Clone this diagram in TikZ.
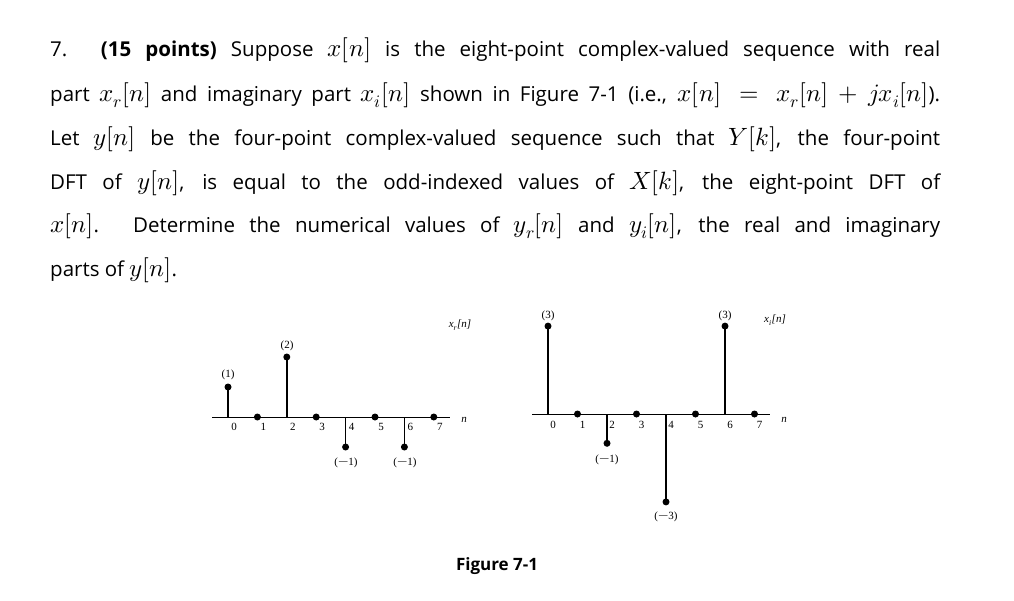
\documentclass[tikz,border=0pt]{standalone}
\usepackage{unicode-math}
\setmainfont{Open Sans}
\setmathfont{Latin Modern Math}[Scale=1.22]
\newfontfamily\tms{Liberation Serif}
\begin{document}
\begin{tikzpicture}[x=1pt,y=-1pt,
  para/.style={anchor=west,inner sep=0pt,font=\fontsize{20.5}{24}\selectfont},
  sm/.style={font=\tms\fontsize{11}{13}\selectfont,inner sep=0pt},
  stem/.style={line width=1.4pt},
  dot/.style={circle,fill=black,inner sep=0pt,minimum size=7pt},
  ax/.style={line width=1pt}]
\useasboundingbox (0,0) rectangle (1014,600);
\newcommand\jl[1]{\parbox{890pt}{\parfillskip=0pt #1}}
\node[para] (l1) at (50,50) {\jl{7. \textbf{(15 points)} Suppose $x[n]$ is the eight-point complex-valued sequence with real}};
\node[para] (l2) at (50,95) {\jl{part $x_r[n]$ and imaginary part $x_i[n]$ shown in Figure 7-1 (i.e., $x[n]=x_r[n]+jx_i[n]$).}};
\node[para] (l3) at (50,139) {\jl{Let $y[n]$ be the four-point complex-valued sequence such that $Y[k]$, the four-point}};
\node[para] (l4) at (50,183) {\jl{DFT of $y[n]$, is equal to the odd-indexed values of $X[k]$, the eight-point DFT of}};
\node[para] (l5) at (50,226) {\jl{$x[n]$. Determine the numerical values of $y_r[n]$ and $y_i[n]$, the real and imaginary}};
\node[para] (l6) at (50,270) {parts of $y[n]$.};
% left plot
\coordinate (La) at (212,417); \coordinate (Lb) at (450,417);
\draw[ax] (La) -- (Lb);
\foreach \n/\val in {0/1,1/0,2/2,3/0,4/-1,5/0,6/-1,7/0}{
  \coordinate (L\n) at ({228+29.4*\n},417);
  \coordinate (Lt\n) at ({228+29.4*\n},{417-30*\val});
  \draw[stem] (L\n) -- (Lt\n);
  \node[dot] (Ld\n) at (Lt\n) {};
  \node[sm] (Ln\n) at ({234+29.4*\n},427) {\n};
}
\node[sm] at (228,375) {(1)};
\node[sm] at (287,346) {(2)};
\node[sm] at (346,463) {($-$1)};
\node[sm] at (405,463) {($-$1)};
\node[sm] at (460,325) {\itshape x\textsubscript{r}[n]};
\node[sm] at (464,420) {\itshape n};
% right plot
\coordinate (Ra) at (532,414); \coordinate (Rb) at (770,414);
\draw[ax] (Ra) -- (Rb);
\foreach \n/\val in {0/3,1/0,2/-1,3/0,4/-3,5/0,6/3,7/0}{
  \coordinate (R\n) at ({548+29.5*\n},414);
  \coordinate (Rt\n) at ({548+29.5*\n},{414-29.3*\val});
  \draw[stem] (R\n) -- (Rt\n);
  \node[dot] (Rd\n) at (Rt\n) {};
  \node[sm] (Rn\n) at ({553+29.5*\n},425) {\n};
}
\node[sm] at (548,316) {(3)};
\node[sm] at (725,316) {(3)};
\node[sm] at (607,460) {($-$1)};
\node[sm] at (666,517) {($-$3)};
\node[sm] at (775,320) {\itshape x\textsubscript{i}[n]};
\node[sm] at (784,420) {\itshape n};
\node[font=\bfseries\fontsize{17}{20}\selectfont] (fig) at (497,566) {Figure 7-1};
\end{tikzpicture}
\end{document}
